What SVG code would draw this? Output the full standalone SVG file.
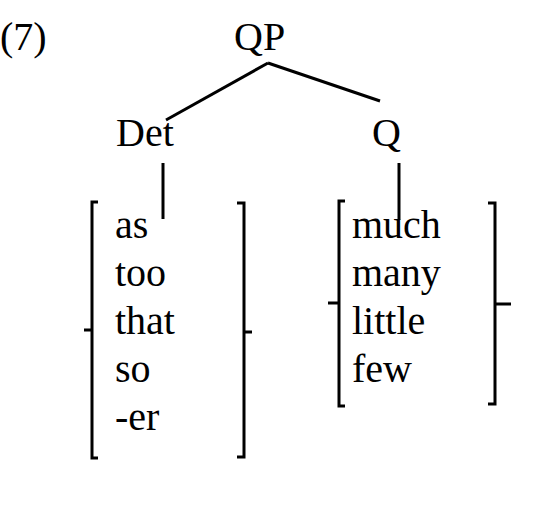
<svg xmlns="http://www.w3.org/2000/svg" width="552" height="514" viewBox="0 0 552 514">
<style>
text{font-family:"Liberation Serif","Times New Roman",serif;font-size:40px;fill:#000}
.ln{stroke:#000;stroke-width:3;fill:none}
.br{stroke:#000;stroke-width:3;fill:none;stroke-linejoin:miter}
</style>
<rect width="552" height="514" fill="#fff"/>
<text id="label" x="0" y="50">(7)</text>
<g id="QP"><text x="234" y="50">QP</text></g>
<g id="Det"><text x="116" y="146">Det</text></g>
<g id="Q"><text x="372" y="146">Q</text></g>
<g id="connectors">
<line class="ln" x1="268" y1="63" x2="166" y2="120"/>
<line class="ln" x1="268" y1="63" x2="380" y2="101"/>
<line class="ln" x1="163" y1="163" x2="163" y2="219"/>
<line class="ln" x1="399" y1="163" x2="399" y2="220"/>
</g>
<g id="DetList">
<path class="br" d="M98,202 H92 V458 H98 M92,330 H84"/>
<path class="br" d="M237,203 H244 V457 H237 M244,332 H252"/>
<text x="115" y="238">as</text>
<text x="115" y="286">too</text>
<text x="115" y="334">that</text>
<text x="115" y="382">so</text>
<text x="115" y="430">-er</text>
</g>
<g id="QList">
<path class="br" d="M345,201 H339 V406 H345 M339,303 H328"/>
<path class="br" d="M488,203 H495 V404 H488 M495,304 H511"/>
<text x="352" y="238">much</text>
<text x="352" y="286">many</text>
<text x="352" y="334">little</text>
<text x="352" y="382">few</text>
</g>
</svg>
